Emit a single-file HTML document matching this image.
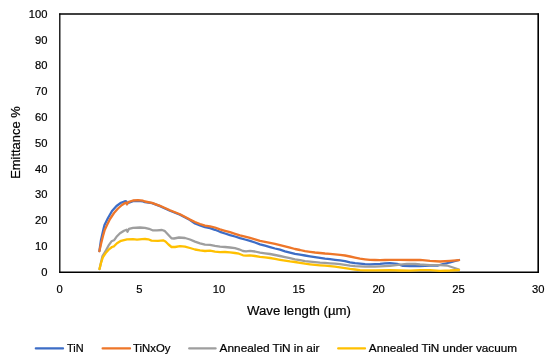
<!DOCTYPE html>
<html><head><meta charset="utf-8"><title>Emittance chart</title>
<style>
html,body{margin:0;padding:0;background:#fff;}
body{width:550px;height:360px;overflow:hidden;}
svg{display:block;}
text{font-family:"Liberation Sans","DejaVu Sans",sans-serif;fill:#000;stroke:#000;stroke-width:0.2px;}
.t{font-size:10.7px;}
.k{font-size:11.2px;}
.a{font-size:12.5px;}
.c{fill:none;stroke-width:2.3;stroke-linejoin:round;stroke-linecap:round;}
</style></head><body>
<svg width="550" height="360" viewBox="0 0 550 360">
<rect x="0" y="0" width="550" height="360" fill="#fff"/>
<g stroke="#000" stroke-linecap="butt">
<line x1="59.15" y1="14.1" x2="539" y2="14.1" stroke-width="1.5"/>
<line x1="538.2" y1="13.4" x2="538.2" y2="272.85" stroke-width="1.6"/>
<line x1="59.15" y1="272.2" x2="539" y2="272.2" stroke-width="1.55"/>
<line x1="59.8" y1="13.4" x2="59.8" y2="272.85" stroke-width="1.3"/>
</g>
<g class="k">
<text x="47.4" y="275.80" text-anchor="end">0</text>
<text x="47.4" y="250.00" text-anchor="end">10</text>
<text x="47.4" y="224.20" text-anchor="end">20</text>
<text x="47.4" y="198.40" text-anchor="end">30</text>
<text x="47.4" y="172.60" text-anchor="end">40</text>
<text x="47.4" y="146.80" text-anchor="end">50</text>
<text x="47.4" y="121.00" text-anchor="end">60</text>
<text x="47.4" y="95.20" text-anchor="end">70</text>
<text x="47.4" y="69.40" text-anchor="end">80</text>
<text x="47.4" y="43.60" text-anchor="end">90</text>
<text x="47.4" y="17.80" text-anchor="end">100</text>
<text x="59.50" y="292.9" text-anchor="middle">0</text>
<text x="139.28" y="292.9" text-anchor="middle">5</text>
<text x="219.07" y="292.9" text-anchor="middle">10</text>
<text x="298.85" y="292.9" text-anchor="middle">15</text>
<text x="378.63" y="292.9" text-anchor="middle">20</text>
<text x="458.42" y="292.9" text-anchor="middle">25</text>
<text x="538.20" y="292.9" text-anchor="middle">30</text>
</g>
<path class="c" stroke="#3D6DC6" d="M99.4 251.1 L101.0 240.0 L103.5 229.0 L104.5 225.0 L108.0 218.0 L112.0 211.0 L116.5 206.0 L121.0 202.8 L125.0 201.2 L126.3 201.3 L127.0 204.2 L127.8 202.8 L129.0 202.6 L133.0 201.2 L138.0 200.9 L143.0 201.4 L145.0 202.2 L152.0 203.2 L160.0 206.2 L170.0 210.8 L180.0 214.8 L190.0 220.0 L195.0 223.5 L200.0 225.5 L205.0 227.2 L210.0 228.2 L215.0 229.8 L220.0 231.8 L225.0 233.5 L230.0 235.1 L235.0 236.5 L240.0 238.1 L245.0 239.5 L250.0 240.8 L255.0 242.5 L260.0 244.3 L265.0 245.7 L270.0 247.1 L275.0 248.5 L280.0 249.7 L285.0 251.3 L290.0 252.6 L295.0 253.9 L300.0 254.7 L305.0 255.5 L310.0 256.4 L315.0 257.2 L320.0 257.9 L325.0 258.7 L330.0 259.2 L335.0 259.8 L340.0 260.4 L345.0 261.1 L350.0 262.3 L355.0 263.2 L360.0 263.6 L365.0 264.1 L370.0 264.3 L375.0 264.1 L380.0 263.9 L385.0 263.4 L390.0 263.1 L397.0 263.9 L403.0 265.9 L410.0 266.2 L420.0 266.0 L430.0 265.7 L438.0 265.5 L443.0 264.0 L450.0 262.5 L459.0 260.0"/>
<path class="c" stroke="#EE7629" d="M99.4 251.1 L101.0 244.0 L103.0 236.0 L104.7 230.0 L107.0 225.0 L110.0 219.0 L114.0 213.0 L118.0 208.5 L122.0 205.0 L125.0 203.0 L126.2 202.6 L127.0 204.2 L127.8 202.6 L129.0 201.8 L133.0 200.5 L138.0 200.2 L143.0 200.7 L145.0 201.5 L152.0 202.8 L160.0 205.8 L170.0 210.3 L180.0 214.3 L190.0 219.6 L195.0 222.0 L200.0 224.0 L205.0 225.7 L210.0 226.3 L215.0 227.5 L220.0 229.3 L225.0 230.8 L230.0 232.2 L235.0 233.8 L240.0 235.3 L245.0 236.6 L250.0 237.9 L255.0 239.3 L260.0 240.8 L265.0 241.8 L270.0 242.9 L275.0 243.9 L280.0 245.1 L285.0 246.3 L290.0 247.6 L295.0 249.0 L300.0 250.0 L305.0 251.2 L310.0 251.8 L315.0 252.5 L320.0 253.0 L325.0 253.5 L330.0 253.8 L335.0 254.4 L340.0 254.9 L345.0 255.5 L350.0 256.5 L355.0 257.6 L360.0 258.6 L365.0 259.3 L370.0 259.9 L375.0 260.0 L380.0 260.2 L385.0 260.0 L390.0 259.8 L400.0 259.8 L410.0 260.0 L420.0 259.8 L430.0 260.8 L440.0 261.5 L450.0 260.8 L459.0 260.2"/>
<path class="c" stroke="#9E9E9E" d="M99.5 269.0 L101.0 262.5 L102.5 256.0 L106.0 250.3 L109.0 244.8 L111.5 241.3 L114.0 240.3 L116.5 236.8 L120.0 233.3 L124.0 230.8 L126.5 229.8 L127.5 231.8 L129.0 228.8 L133.0 227.8 L140.0 227.5 L145.0 227.8 L149.0 228.8 L152.5 230.3 L157.0 230.3 L162.0 230.0 L164.5 230.8 L168.0 234.5 L171.5 238.3 L174.0 238.5 L179.0 237.5 L185.0 238.0 L190.0 239.5 L195.0 241.6 L200.0 243.4 L205.0 244.7 L210.0 244.8 L215.0 245.9 L220.0 246.7 L225.0 247.0 L230.0 247.5 L235.0 248.2 L239.0 249.3 L243.0 251.0 L246.0 251.3 L250.0 250.9 L255.0 251.5 L260.0 252.6 L265.0 253.3 L270.0 254.0 L275.0 255.0 L280.0 256.0 L285.0 257.1 L290.0 258.2 L295.0 259.3 L300.0 260.2 L305.0 261.1 L310.0 261.6 L315.0 262.1 L320.0 262.6 L325.0 262.9 L330.0 263.3 L335.0 263.7 L340.0 264.2 L345.0 264.9 L350.0 265.7 L355.0 266.2 L360.0 266.4 L365.0 266.6 L375.0 266.6 L385.0 266.1 L390.0 265.8 L400.0 264.6 L407.0 263.9 L415.0 264.0 L420.0 264.5 L430.0 265.2 L440.0 265.2 L447.0 265.5 L453.0 267.5 L459.0 269.5"/>
<path class="c" stroke="#FFC000" d="M99.5 269.0 L101.0 263.0 L103.0 257.0 L105.5 253.3 L109.3 249.1 L112.0 247.0 L114.0 246.3 L117.0 243.3 L121.0 240.8 L127.0 239.3 L133.0 239.1 L137.0 239.6 L142.0 239.1 L145.0 239.0 L148.3 239.3 L151.5 240.6 L158.0 240.9 L163.5 240.4 L165.5 241.5 L168.5 244.5 L171.5 247.0 L175.0 247.0 L180.0 246.2 L185.0 246.7 L190.0 248.0 L195.0 249.5 L200.0 250.4 L205.0 251.0 L210.0 250.7 L215.0 251.7 L220.0 252.2 L225.0 252.0 L230.0 252.3 L235.0 253.0 L239.0 253.7 L243.0 255.3 L246.0 255.7 L250.0 255.3 L255.0 256.0 L260.0 256.8 L265.0 257.3 L270.0 258.0 L275.0 258.9 L280.0 259.8 L285.0 260.6 L290.0 261.4 L295.0 262.0 L300.0 262.9 L305.0 263.7 L310.0 264.3 L315.0 264.8 L320.0 265.3 L325.0 265.7 L330.0 266.2 L335.0 266.6 L340.0 267.3 L345.0 268.1 L350.0 268.9 L355.0 269.5 L360.0 270.1 L365.0 270.4 L375.0 270.4 L390.0 270.2 L400.0 270.5 L410.0 270.7 L420.0 270.2 L430.0 270.2 L440.0 270.8 L450.0 270.5 L459.0 270.0"/>
<text class="a" x="299" y="314.6" text-anchor="middle" textLength="104" lengthAdjust="spacingAndGlyphs">Wave length (µm)</text>
<text class="a" transform="translate(20.1 142.6) rotate(-90)" text-anchor="middle" textLength="72.5" lengthAdjust="spacingAndGlyphs">Emittance %</text>
<g class="c" style="stroke-width:2.25">
<line x1="35.8" y1="348.4" x2="63" y2="348.4" stroke="#3D6DC6"/>
<line x1="102.6" y1="348.4" x2="130" y2="348.4" stroke="#EE7629"/>
<line x1="189.2" y1="348.4" x2="215.6" y2="348.4" stroke="#9E9E9E"/>
<line x1="338.2" y1="348.4" x2="365" y2="348.4" stroke="#FFC000"/>
</g>
<g class="t">
<text x="67" y="351.6" textLength="16.6" lengthAdjust="spacingAndGlyphs">TiN</text>
<text x="133" y="351.6" textLength="37.4" lengthAdjust="spacingAndGlyphs">TiNxOy</text>
<text x="219.6" y="351.6" textLength="99.9" lengthAdjust="spacingAndGlyphs">Annealed TiN in air</text>
<text x="368.8" y="351.6" textLength="148.3" lengthAdjust="spacingAndGlyphs">Annealed TiN under vacuum</text>
</g>
</svg>
</body></html>
